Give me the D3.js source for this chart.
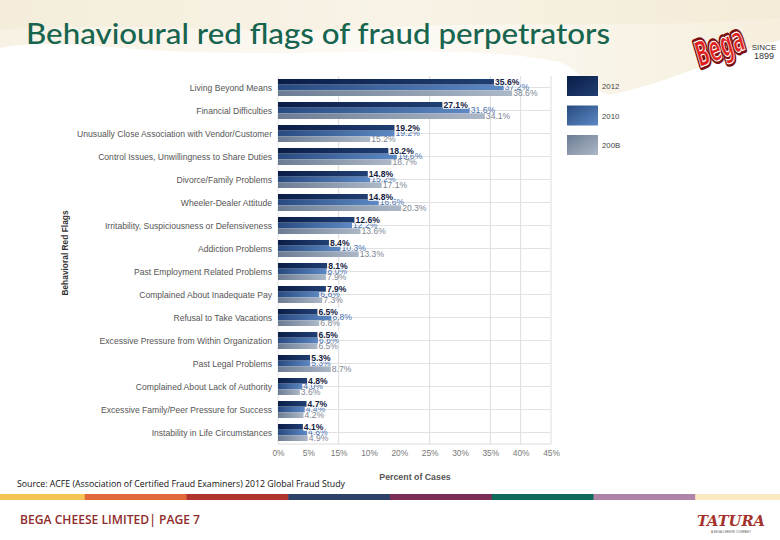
<!DOCTYPE html>
<html>
<head>
<meta charset="utf-8">
<script src="https://cdn.jsdelivr.net/npm/d3@7"></script>
<style>
  html, body { margin: 0; padding: 0; background: #ffffff; }
  svg { display: block; }
</style>
</head>
<body>
<svg id="chart" width="780" height="540"></svg>
<script>
// ---------- DATA ----------
const categories = [
  "Living Beyond Means",
  "Financial Difficulties",
  "Unusually Close Association with Vendor/Customer",
  "Control Issues, Unwillingness to Share Duties",
  "Divorce/Family Problems",
  "Wheeler-Dealer Attitude",
  "Irritability, Suspiciousness or Defensiveness",
  "Addiction Problems",
  "Past Employment Related Problems",
  "Complained About Inadequate Pay",
  "Refusal to Take Vacations",
  "Excessive Pressure from Within Organization",
  "Past Legal Problems",
  "Complained About Lack of Authority",
  "Excessive Family/Peer Pressure for Success",
  "Instability in Life Circumstances"
];
const years = ["2012", "2010", "2008"];
const values2012 = [35.6, 27.1, 19.2, 18.2, 14.8, 14.8, 12.6, 8.4, 8.1, 7.9, 6.5, 6.5, 5.3, 4.8, 4.7, 4.1];
const values2010 = [37.2, 31.6, 19.2, 19.6, 15.2, 16.6, 12.2, 10.3, 8.0, 6.8, 8.8, 6.6, 5.3, 4.0, 4.4, 4.8];
const values2008 = [38.6, 34.1, 15.2, 18.7, 17.1, 20.3, 13.6, 13.3, 7.9, 7.3, 6.8, 6.5, 8.7, 3.6, 4.2, 4.9];
const tickValues = [0, 5, 10, 15, 20, 25, 30, 35, 40, 45];
const tickLabels = ["0%", "5%", "15%", "10%", "20%", "25%", "30%", "35%", "40%", "45%"];
const gridValues = [10, 25, 35, 40, 45];
const legendLabels = ["2012", "2010", "200B"];
const stripColors = ["#f6c356", "#e0683a", "#b0352e", "#2e4169", "#7c2d55", "#0f6b5a", "#b083a8", "#fbe9c2"];

// ---------- SETUP ----------
const svg = d3.select("#chart");
const seriesByYear = { "2012": values2012, "2010": values2010, "2008": values2008 };
const gradStops = {
  "2012": ["#0a1d47", "#213f73"],
  "2010": ["#284a80", "#5d89c4"],
  "2008": ["#6c7c93", "#adb8c7"]
};
const labelColors = { "2012": "#14213f", "2010": "#4b72b0", "2008": "#7d8593" };

const defs = svg.append("defs");
years.forEach(yr => {
  const g = defs.append("linearGradient").attr("id", "g" + yr)
    .attr("x1", "0%").attr("x2", "100%").attr("y1", "0%").attr("y2", "0%");
  g.append("stop").attr("offset", "0%").attr("stop-color", gradStops[yr][0]);
  g.append("stop").attr("offset", "100%").attr("stop-color", gradStops[yr][1]);
  const gl = defs.append("linearGradient").attr("id", "gl" + yr)
    .attr("x1", "0%").attr("x2", "100%").attr("y1", "0%").attr("y2", "100%");
  gl.append("stop").attr("offset", "0%").attr("stop-color", gradStops[yr][0]);
  gl.append("stop").attr("offset", "100%").attr("stop-color", gradStops[yr][1]);
});
const cream = defs.append("linearGradient").attr("id", "cream")
  .attr("x1", "0%").attr("x2", "100%").attr("y1", "0%").attr("y2", "0%");
cream.append("stop").attr("offset", "0%").attr("stop-color", "#f5eddb");
cream.append("stop").attr("offset", "50%").attr("stop-color", "#fcf9f2");
cream.append("stop").attr("offset", "100%").attr("stop-color", "#f3e9d2");

// ---------- BACKGROUND SWOOSH ----------
svg.append("path")
  .attr("d", "M0,0 L780,0 L780,40 C720,55 680,80 610,95 C590,90 580,70 560,62 C450,40 300,60 150,50 C90,46 40,40 0,48 Z")
  .attr("fill", "url(#cream)").attr("opacity", 0.75);
svg.append("path")
  .attr("d", "M0,0 L780,0 L780,18 C650,30 500,20 380,28 C250,36 120,20 0,30 Z")
  .attr("fill", "#efe4cb").attr("opacity", 0.35);

// ---------- TITLE ----------
svg.append("text")
  .attr("x", 26).attr("y", 44)
  .attr("font-family", "Lato, 'Open Sans', sans-serif")
  .attr("font-size", 28).attr("font-weight", 500)
  .attr("fill", "#17644f")
  .attr("textLength", 584).attr("lengthAdjust", "spacingAndGlyphs")
  .text("Behavioural red flags of fraud perpetrators");

// ---------- SCALES ----------
const x = d3.scaleLinear().domain([0, 45]).range([278, 551]);
const y = d3.scaleBand().domain(categories).range([76, 444]).paddingInner(0.26).paddingOuter(0.13);
const ys = d3.scaleBand().domain(years).range([0, y.bandwidth()]);

// ---------- GRID ----------
const grid = svg.append("g");
grid.selectAll("line.v").data(gridValues).join("line")
  .attr("x1", d => x(d)).attr("x2", d => x(d))
  .attr("y1", 76).attr("y2", 444)
  .attr("stroke", "#dcdcdc").attr("stroke-width", 1);
grid.selectAll("line.h").data(categories).join("line")
  .attr("x1", x(0)).attr("x2", x(45))
  .attr("y1", d => y(d) + y.bandwidth() / 2).attr("y2", d => y(d) + y.bandwidth() / 2)
  .attr("stroke", "#e2e2e2").attr("stroke-width", 1);
grid.append("line")
  .attr("x1", x(0)).attr("x2", x(45)).attr("y1", 444).attr("y2", 444)
  .attr("stroke", "#dcdcdc");
grid.append("line")
  .attr("x1", x(0)).attr("x2", x(0)).attr("y1", 76).attr("y2", 444)
  .attr("stroke", "#e4e4e4");

// ---------- BARS ----------
const rows = categories.map((c, i) => ({
  cat: c,
  vals: years.map(yr => ({ yr, v: seriesByYear[yr][i] }))
}));
const groups = svg.append("g").selectAll("g").data(rows).join("g")
  .attr("transform", d => `translate(0,${y(d.cat)})`);
groups.selectAll("rect").data(d => d.vals).join("rect")
  .attr("x", x(0))
  .attr("y", d => ys(d.yr))
  .attr("width", d => x(d.v) - x(0))
  .attr("height", ys.bandwidth())
  .attr("fill", d => `url(#g${d.yr})`);

// ---------- VALUE LABELS ----------
const labelOrder = ["2008", "2010", "2012"];
labelOrder.forEach(yr => {
  groups.each(function(d) {
    const item = d.vals.find(v => v.yr === yr);
    const g = d3.select(this);
    const tx = x(item.v) + 1;
    const ty = ys(yr) + ys.bandwidth() / 2 + 3;
    if (yr === "2012") {
      const t = g.append("text")
        .attr("x", tx).attr("y", ty)
        .attr("font-family", "'Liberation Sans', Arial, sans-serif")
        .attr("font-size", 8.6).attr("font-weight", "bold")
        .attr("fill", labelColors[yr])
        .text(item.v.toFixed(1) + "%");
      const bb = t.node().getBBox();
      g.insert("rect", () => t.node())
        .attr("x", bb.x - 0.5).attr("y", bb.y + 1).attr("width", bb.width + 1).attr("height", bb.height - 2)
        .attr("fill", "#ffffff").attr("opacity", 0.9);
    } else {
      g.append("text")
        .attr("x", tx).attr("y", ty)
        .attr("font-family", "'Liberation Sans', Arial, sans-serif")
        .attr("font-size", 8.6)
        .attr("fill", labelColors[yr])
        .text(item.v.toFixed(1) + "%");
    }
  });
});

// ---------- CATEGORY LABELS ----------
svg.append("g").selectAll("text").data(categories).join("text")
  .attr("x", 272)
  .attr("y", d => y(d) + y.bandwidth() / 2 + 3)
  .attr("text-anchor", "end")
  .attr("font-family", "'Liberation Sans', Arial, sans-serif")
  .attr("font-size", 8.6)
  .attr("fill", "#555555")
  .text(d => d);

// ---------- X AXIS ----------
const xAxis = d3.axisBottom(x).tickValues(tickValues)
  .tickFormat((d, i) => tickLabels[i]).tickSize(0).tickPadding(0);
const ax = svg.append("g").attr("transform", "translate(0,450)").call(xAxis);
ax.select(".domain").remove();
ax.selectAll("text")
  .attr("font-family", "'Liberation Sans', Arial, sans-serif")
  .attr("font-size", 8.4).attr("fill", "#777777").attr("dy", "0.7em");

svg.append("text")
  .attr("x", 415).attr("y", 480).attr("text-anchor", "middle")
  .attr("font-family", "'Liberation Sans', Arial, sans-serif")
  .attr("font-size", 8.8).attr("font-weight", "bold").attr("fill", "#555555")
  .text("Percent of Cases");

svg.append("text")
  .attr("transform", "translate(68,253) rotate(-90)")
  .attr("text-anchor", "middle")
  .attr("font-family", "'Liberation Sans', Arial, sans-serif")
  .attr("font-size", 8.4).attr("font-weight", "bold").attr("fill", "#333333")
  .text("Behavioral Red Flags");

// ---------- LEGEND ----------
const leg = svg.append("g").selectAll("g").data(years).join("g")
  .attr("transform", (d, i) => `translate(567,${76 + i * 29.5})`);
leg.append("rect").attr("width", 31).attr("height", 20).attr("fill", d => `url(#gl${d})`);
leg.append("text").attr("x", 35).attr("y", 13)
  .attr("font-family", "'Liberation Sans', Arial, sans-serif")
  .attr("font-size", 7.8).attr("fill", "#444444")
  .text((d, i) => legendLabels[i]);

// ---------- SOURCE ----------
svg.append("text")
  .attr("x", 17).attr("y", 487)
  .attr("font-family", "'Open Sans', sans-serif")
  .attr("font-size", 8.5).attr("fill", "#111111")
  .attr("textLength", 328).attr("lengthAdjust", "spacingAndGlyphs")
  .text("Source: ACFE (Association of Certified Fraud Examiners) 2012 Global Fraud Study");

// ---------- COLOR STRIP ----------
const stripX = d3.scaleBand().domain(d3.range(stripColors.length)).range([-17, 797]);
svg.append("g").selectAll("rect").data(stripColors).join("rect")
  .attr("x", (d, i) => stripX(i)).attr("y", 494)
  .attr("width", stripX.bandwidth() + 0.5).attr("height", 6)
  .attr("fill", d => d);

// ---------- FOOTER ----------
svg.append("text")
  .attr("x", 20).attr("y", 524)
  .attr("font-family", "'Open Sans', sans-serif")
  .attr("font-size", 13).attr("font-weight", 600).attr("fill", "#8e2b2b")
  .attr("textLength", 180).attr("lengthAdjust", "spacingAndGlyphs")
  .text("BEGA CHEESE LIMITED| PAGE 7");

svg.append("text")
  .attr("x", 697).attr("y", 526)
  .attr("font-family", "'DejaVu Serif', serif")
  .attr("font-size", 15).attr("font-weight", "bold").attr("font-style", "italic")
  .attr("fill", "#a3322c")
  .attr("textLength", 68).attr("lengthAdjust", "spacingAndGlyphs")
  .text("TATURA");
svg.append("text")
  .attr("x", 731).attr("y", 533).attr("text-anchor", "middle")
  .attr("font-family", "'Liberation Sans', sans-serif")
  .attr("font-size", 3).attr("fill", "#666")
  .text("A BEGA CHEESE COMPANY");

// ---------- BEGA LOGO ----------
const logo = svg.append("g").attr("transform", "translate(724,58) rotate(-22) scale(1,1.45)");
logo.append("text").attr("text-anchor", "middle")
  .attr("font-family", "'DejaVu Sans', sans-serif")
  .attr("font-size", 24).attr("font-weight", "bold").attr("font-style", "italic")
  .attr("fill", "none").attr("stroke", "#7a1010").attr("stroke-width", 4.5)
  .attr("stroke-linejoin", "round")
  .attr("textLength", 50).attr("lengthAdjust", "spacingAndGlyphs")
  .text("Bega");
logo.append("text").attr("text-anchor", "middle")
  .attr("font-family", "'DejaVu Sans', sans-serif")
  .attr("font-size", 24).attr("font-weight", "bold").attr("font-style", "italic")
  .attr("fill", "#e0201e").attr("stroke", "#ffffff").attr("stroke-width", 0.8)
  .attr("textLength", 50).attr("lengthAdjust", "spacingAndGlyphs")
  .text("Bega");
svg.append("text").attr("x", 764).attr("y", 50).attr("text-anchor", "middle")
  .attr("font-family", "'Liberation Sans Narrow', 'Liberation Sans', sans-serif")
  .attr("font-size", 8).attr("fill", "#333")
  .text("SINCE");
svg.append("text").attr("x", 764).attr("y", 59).attr("text-anchor", "middle")
  .attr("font-family", "'Liberation Sans Narrow', 'Liberation Sans', sans-serif")
  .attr("font-size", 9).attr("fill", "#333")
  .text("1899");
</script>
</body>
</html>
